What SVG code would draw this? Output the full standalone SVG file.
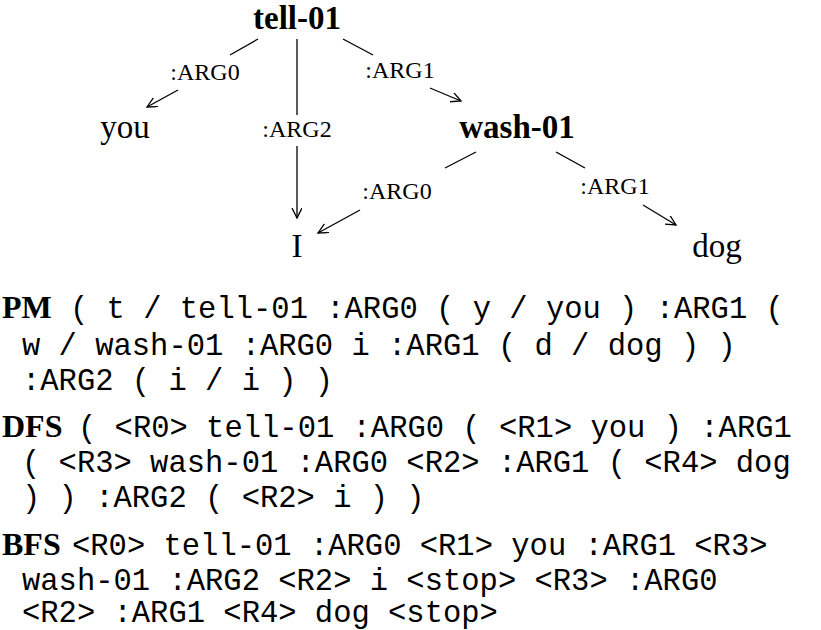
<svg xmlns="http://www.w3.org/2000/svg" width="821" height="630" viewBox="0 0 821 630">
<style>
.n{font-family:"Liberation Serif",serif;font-size:33px;text-anchor:middle;fill:#000}
.b{font-weight:bold}
.l{font-family:"Liberation Serif",serif;font-size:24px;text-anchor:middle;fill:#000}
.m{font-family:"Liberation Mono",monospace;font-size:30.5px;white-space:pre;fill:#000}
.h{font-family:"Liberation Serif",serif;font-size:32px;font-weight:bold;fill:#000}
line{stroke:#000;stroke-width:1.3}
</style>
<defs><marker id="a" markerWidth="12" markerHeight="12" refX="10" refY="5" orient="auto" markerUnits="userSpaceOnUse"><path d="M0,0 L10,5 L0,10" fill="none" stroke="#000" stroke-width="1.3"/></marker></defs>
<g id="tell"><text class="n b" x="297" y="29">tell-01</text></g>
<g id="you"><text class="n" x="125" y="138">you</text></g>
<g id="wash"><text class="n b" x="517" y="138">wash-01</text></g>
<g id="i"><text class="n" x="297" y="257">I</text></g>
<g id="dog"><text class="n" x="717" y="257">dog</text></g>
<g id="edges">
<line x1="258" y1="39" x2="230" y2="55"/><text class="l" x="205" y="80">:ARG0</text><line x1="178" y1="90" x2="147" y2="107" marker-end="url(#a)"/>
<line x1="297" y1="39" x2="297" y2="115"/><text class="l" x="297" y="137">:ARG2</text><line x1="297" y1="146" x2="297" y2="218" marker-end="url(#a)"/>
<line x1="343" y1="39" x2="373" y2="55"/><text class="l" x="400" y="78">:ARG1</text><line x1="430" y1="88" x2="461" y2="101" marker-end="url(#a)"/>
<line x1="476" y1="152" x2="445" y2="168"/><text class="l" x="397" y="199">:ARG0</text><line x1="360" y1="210" x2="318" y2="233" marker-end="url(#a)"/>
<line x1="556" y1="152" x2="585" y2="168"/><text class="l" x="615" y="194">:ARG1</text><line x1="643" y1="205" x2="676" y2="225" marker-end="url(#a)"/>
</g>
<text class="h" x="2" y="318">PM</text>
<text class="m" x="70" y="318">( t / tell-01 :ARG0 ( y / you ) :ARG1 (</text>
<text class="m" x="22" y="355">w / wash-01 :ARG0 i :ARG1 ( d / dog ) )</text>
<text class="m" x="22" y="390">:ARG2 ( i / i ) )</text>
<text class="h" x="2" y="437">DFS</text>
<text class="m" x="78" y="437">( &lt;R0&gt; tell-01 :ARG0 ( &lt;R1&gt; you ) :ARG1</text>
<text class="m" x="22" y="472">( &lt;R3&gt; wash-01 :ARG0 &lt;R2&gt; :ARG1 ( &lt;R4&gt; dog</text>
<text class="m" x="22" y="507">) ) :ARG2 ( &lt;R2&gt; i ) )</text>
<text class="h" x="2" y="555">BFS</text>
<text class="m" x="72" y="555">&lt;R0&gt; tell-01 :ARG0 &lt;R1&gt; you :ARG1 &lt;R3&gt;</text>
<text class="m" x="22" y="590">wash-01 :ARG2 &lt;R2&gt; i &lt;stop&gt; &lt;R3&gt; :ARG0</text>
<text class="m" x="22" y="622">&lt;R2&gt; :ARG1 &lt;R4&gt; dog &lt;stop&gt;</text>
</svg>
